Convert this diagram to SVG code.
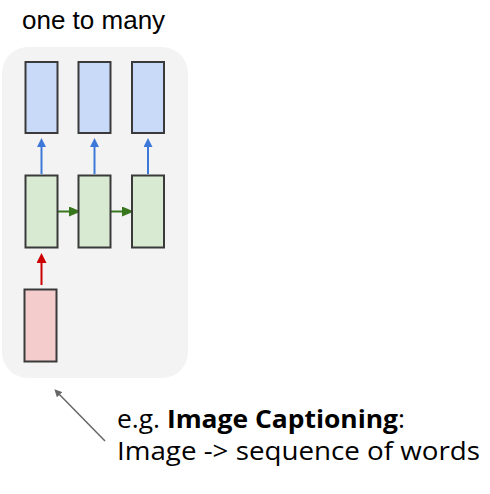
<svg xmlns="http://www.w3.org/2000/svg" width="490" height="494" viewBox="0 0 490 494">
<style>
.t{font-family:"Liberation Sans",Arial,sans-serif;font-size:26px;fill:#000}
.c{font-family:"Open Sans","Liberation Sans",sans-serif;font-size:25.5px;fill:#000}
.box{stroke:#3a3a3a;stroke-width:2}
.blue{fill:#c9daf8}.green{fill:#d9ead3}.red{fill:#f4cccc}
</style>
<defs>
<marker id="ab" markerWidth="4.5" markerHeight="4.5" refX="2" refY="2.25" orient="auto" markerUnits="strokeWidth"><path d="M0,0 L4.5,2.25 L0,4.5 z" fill="#3c78d8"/></marker>
<marker id="ag" markerWidth="6" markerHeight="5" refX="2" refY="2.5" orient="auto" markerUnits="strokeWidth"><path d="M0,0 L6,2.5 L0,5 z" fill="#38761d"/></marker>
<marker id="ar" markerWidth="5" markerHeight="5" refX="2" refY="2.5" orient="auto" markerUnits="strokeWidth"><path d="M0,0 L5,2.5 L0,5 z" fill="#cc0000"/></marker>
<marker id="ak" markerWidth="5" markerHeight="5" refX="2.5" refY="2.5" orient="auto" markerUnits="strokeWidth"><path d="M0,0 L5,2.5 L0,5 z" fill="#666"/></marker>
</defs>
<text class="t" x="22" y="29">one to many</text>
<rect x="2" y="47" width="186" height="331" rx="26" fill="#f3f3f3"/>
<g id="connectors">
<line x1="41.5" y1="174" x2="41.5" y2="143" stroke="#3c78d8" stroke-width="2" marker-end="url(#ab)"/>
<line x1="94.5" y1="174" x2="94.5" y2="143" stroke="#3c78d8" stroke-width="2" marker-end="url(#ab)"/>
<line x1="148" y1="174" x2="148" y2="143" stroke="#3c78d8" stroke-width="2" marker-end="url(#ab)"/>
<line x1="58" y1="211.5" x2="73" y2="211.5" stroke="#38761d" stroke-width="2" marker-end="url(#ag)"/>
<line x1="111" y1="211.5" x2="126" y2="211.5" stroke="#38761d" stroke-width="2" marker-end="url(#ag)"/>
<line x1="41.5" y1="285" x2="41.5" y2="259" stroke="#cc0000" stroke-width="2" marker-end="url(#ar)"/>
<line x1="105" y1="441" x2="57" y2="392" stroke="#666" stroke-width="1.5" marker-end="url(#ak)"/>
</g>
<g id="y1"><rect class="box blue" x="25.5" y="62" width="32" height="71"/></g>
<g id="y2"><rect class="box blue" x="78.5" y="62" width="32" height="71"/></g>
<g id="y3"><rect class="box blue" x="132" y="62" width="32" height="71"/></g>
<g id="h1"><rect class="box green" x="25.5" y="175.5" width="32" height="72"/></g>
<g id="h2"><rect class="box green" x="78.5" y="175.5" width="32" height="72"/></g>
<g id="h3"><rect class="box green" x="132" y="175.5" width="32" height="72"/></g>
<g id="x1"><rect class="box red" x="24.5" y="289.5" width="32" height="72"/></g>
<g id="caption">
<text class="c" x="117" y="428" textLength="288" lengthAdjust="spacingAndGlyphs">e.g. <tspan font-weight="bold">Image Captioning</tspan>:</text>
<text class="c" x="117" y="460" textLength="363" lengthAdjust="spacingAndGlyphs">Image -&gt; sequence of words</text>
</g>
</svg>
